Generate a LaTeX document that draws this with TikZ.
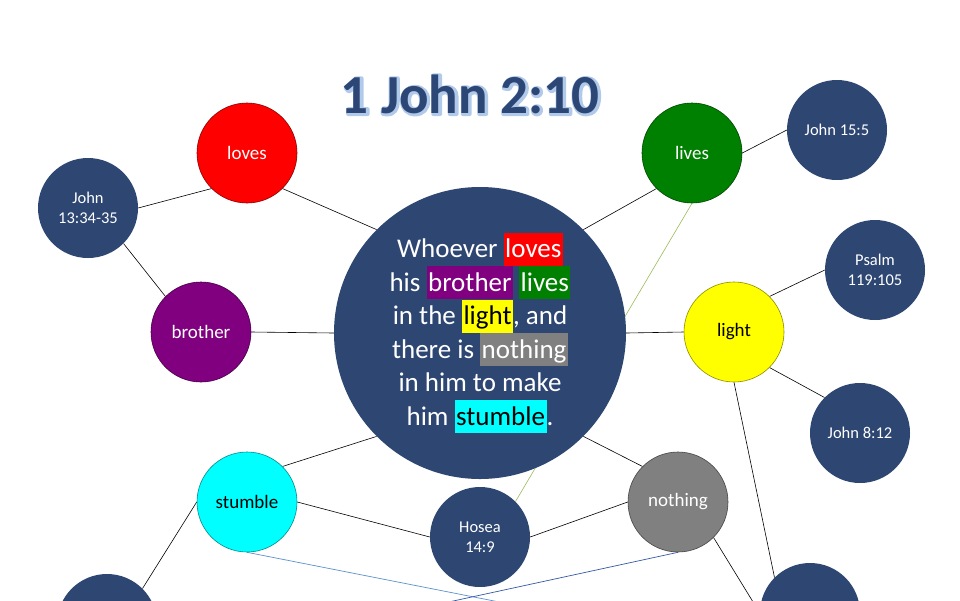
\documentclass[tikz,border=0pt]{standalone}
\usepackage{fontspec}
\setmainfont{Carlito}
\usetikzlibrary{positioning}
\usetikzlibrary{backgrounds}

\definecolor{navy}{RGB}{45,70,114}
\definecolor{titleblue}{RGB}{44,70,118}
\definecolor{glowblue}{RGB}{178,202,234}
\definecolor{wordred}{RGB}{255,0,0}
\definecolor{wordpurple}{RGB}{128,0,128}
\definecolor{wordgreen}{RGB}{0,128,0}
\definecolor{wordyellow}{RGB}{255,255,0}
\definecolor{wordgray}{RGB}{128,128,128}
\definecolor{wordcyan}{RGB}{0,255,255}
\definecolor{linkgreen}{RGB}{155,187,89}
\definecolor{paleblue}{RGB}{91,145,205}
\definecolor{deepblue}{RGB}{52,88,165}

% coloured box behind a word of the verse
\newcommand{\hlword}[3]{{\setlength{\fboxsep}{0pt}\colorbox{#1}{\rule[-8pt]{0pt}{33pt}\kern1.5pt\textcolor{#2}{#3}\kern1.5pt}}}
% fattened letters for the glow under the title
\newcommand{\glowtext}[1]{\special{pdf:literal direct 0.698 0.792 0.918 RG 2 Tr 4 w 1 j}#1\special{pdf:literal direct 0 Tr}}

\tikzset{
  bubble/.style={circle,minimum size=100pt,inner sep=0pt,align=center},
  wordbubble/.style={bubble,fill=#1,draw=#1!55!black,line width=0.6pt,text=white,font=\fontsize{19}{22}\selectfont},
  refbubble/.style={bubble,fill=navy,text=white,font=\fontsize{16.5}{20}\selectfont},
  titletext/.style={anchor=base,font=\fontsize{55}{60}\selectfont\bfseries},
  link/.style={draw,line width=0.6pt}
}

\begin{document}
\begin{tikzpicture}[x=1pt,y=-1pt]

  \useasboundingbox (0,0) rectangle (960,600);
  \clip (0,0) rectangle (960,600);

  % title with its glow
  \node [titletext,text=glowblue] (titleglow) at (471,114) {\glowtext{1 John 2:10}};
  \node [titletext,text=titleblue] (title) at (470,113) {1 John 2:10};

  % the verse
  \node [circle,fill=navy,minimum size=292pt,inner sep=0pt,align=center,text=white,
         font=\fontsize{27}{33.5}\selectfont] (verse) at (480,333)
    {Whoever \hlword{wordred}{white}{loves}\\
     his \hlword{wordpurple}{white}{brother} \hlword{wordgreen}{white}{lives}\\
     in the \hlword{wordyellow}{black}{light}, and\\
     there is \hlword{wordgray}{white}{nothing}\\
     in him to make\\
     him \hlword{wordcyan}{black}{stumble}.};

  % key words
  \node [wordbubble=wordred] (loves) at (247,153) {loves};
  \node [wordbubble=wordpurple] (brother) at (201,332) {brother};
  \node [wordbubble=wordgreen] (lives) at (692,153) {lives};
  \node [wordbubble=wordyellow,text=black] (light) at (734,332) {light};
  \node [wordbubble=wordcyan,text=black] (stumble) at (247,502) {stumble};
  \node [wordbubble=wordgray] (nothing) at (678,502) {nothing};

  % cross references
  \node [refbubble] (john13) at (88,208) {John\\13:34-35};
  \node [refbubble] (john15) at (837,130) {John 15:5};
  \node [refbubble] (psalm119) at (875,270) {Psalm\\119:105};
  \node [refbubble] (john8) at (860,433) {John 8:12};
  \node [refbubble] (hosea14) at (480,537) {Hosea\\14:9};
  \node [refbubble] (lowleft) at (107,624) {};
  \node [refbubble] (lowright) at (810,613) {};

  \coordinate (stumbleend) at (611,624);
  \coordinate (nothingend) at (347,624);

  \begin{scope}[on background layer]
    \fill [white] (0,0) rectangle (960,600);

    \path [link]
      (verse.north west) edge (loves.south east)
      (verse.north east) edge (lives.south west)
      (verse.west) edge (brother.east)
      (verse.east) edge (light.west)
      (verse.south west) edge (stumble.north east)
      (verse.south east) edge (nothing.north west);

    \path [link]
      (john13.east) edge (loves.south west)
      (john13.south east) edge (brother.north west)
      (lives.east) edge (john15.west)
      (light.north east) edge (psalm119.west)
      (light.south east) edge (john8.north west)
      (light.south) edge (lowright.north west)
      (nothing.south east) edge (lowright.west)
      (stumble.west) edge (lowleft.north east)
      (stumble.east) edge (hosea14.west)
      (hosea14.east) edge (nothing.west);

    \path [draw,linkgreen,line width=0.6pt] (lives.south) -- (hosea14.north east);

    \path [draw,paleblue,line width=0.7pt] (stumble.south) -- (stumbleend);
    \path [draw,deepblue,line width=0.7pt] (nothing.south) -- (nothingend);
  \end{scope}

\end{tikzpicture}
\end{document}
